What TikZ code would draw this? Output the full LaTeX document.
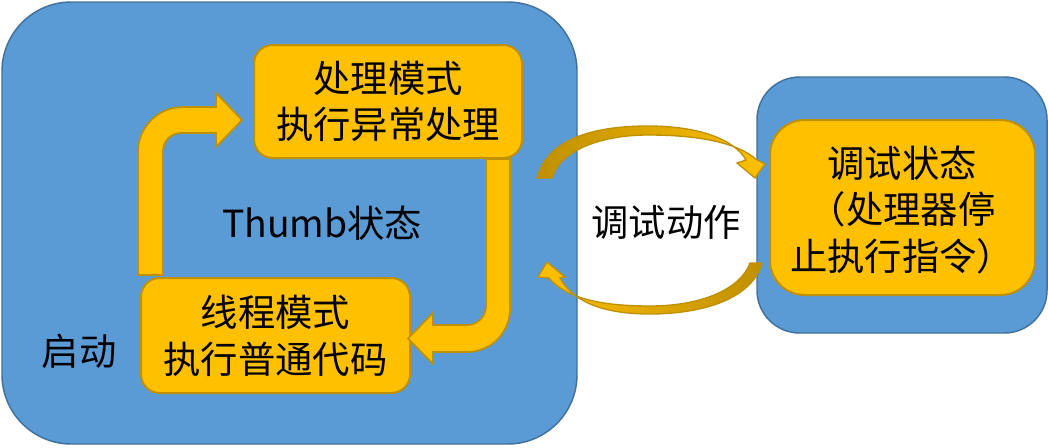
\documentclass[tikz,border=0pt]{standalone}
\usepackage{fontspec}
\setmainfont{Noto Sans CJK SC}
\definecolor{bluefill}{HTML}{5B9BD5}
\definecolor{blueline}{HTML}{41719C}
\definecolor{gold}{HTML}{FFC000}
\definecolor{goldline}{HTML}{BF9000}
\begin{document}
\begin{tikzpicture}[x=0.75pt,y=-0.75pt,
  bluebox/.style={draw=blueline,fill=bluefill,line width=1.1pt,inner sep=0pt},
  goldbox/.style={draw=goldline,fill=gold,line width=1.5pt,inner sep=0pt,rounded corners=14pt},
  lbl/.style={font=\fontsize{28}{35}\selectfont,align=center,text=black,inner sep=0pt},
  blockarrow/.style={draw=goldline,fill=gold,line width=1.3pt,line join=miter},
  curvedarrow/.style={draw=goldline,line width=1pt,line join=miter}
]
\fill[white] (0,0) rectangle (1048,447);
\useasboundingbox (0,0) rectangle (1048,447);

% containers
\node[bluebox,rounded corners=52pt,minimum width=431.25pt,minimum height=331.5pt] (thumb) at (289.5,223) {};
\node[bluebox,rounded corners=32pt,minimum width=217.5pt,minimum height=192pt] (debugouter) at (902,205) {};

% state boxes
\node[goldbox,minimum width=201pt,minimum height=84.75pt] (handler) at (388,101.5) {};
\node[goldbox,minimum width=201.75pt,minimum height=86.25pt] (thread) at (275.5,335.5) {};
\node[goldbox,rounded corners=26pt,minimum width=198.75pt,minimum height=131.25pt] (debug) at (902.5,207.5) {};

\node[lbl] (handlertext) at (388,101.5) {处理模式\\执行异常处理};
\node[lbl] (threadtext) at (275.5,336) {线程模式\\执行普通代码};
\node[lbl] (debugtext) at (902,210) {调试状态\\（处理器停\\止执行指令）};
\node[lbl] (thumblabel) at (322,223) {Thumb状态};
\node[lbl] (start) at (79,351.5) {启动};
\node[lbl] (action) at (666,222) {调试动作};

% bent arrow: thread -> handler
\draw[blockarrow] (138,275) -- (138,152) .. controls (138,127.1) and (158.1,107) .. (183,107)
  -- (216,107) -- (216,93) -- (242,120) -- (216,147) -- (216,133) -- (181,133)
  .. controls (171.1,133) and (163,141.1) .. (163,151) -- (163,275) -- cycle;

% bent arrow: handler -> thread
\draw[blockarrow] (486,159) -- (510,159) -- (510,309) .. controls (510,332.7) and (490.7,352) .. (467,352)
  -- (433,352) -- (433,364) -- (408,338.5) -- (433,313) -- (433,325) -- (467,325)
  .. controls (477.5,325) and (486,316.5) .. (486,306) -- cycle;

% curved arrow: thumb -> debug
\draw[curvedarrow,left color=goldline,right color=gold]
  (537,178) .. controls (548,136) and (600,126) .. (648,126)
  .. controls (700,126) and (735,140) .. (746,160)
  -- (737,163) -- (755,178) -- (765,164) -- (757,160)
  .. controls (738,143) and (700,135) .. (648,135)
  .. controls (602,135) and (560,150) .. (552,178) -- cycle;

% curved arrow: debug -> thumb
\draw[curvedarrow,left color=gold,right color=goldline]
  (762,263) .. controls (752,300) and (700,314) .. (650,314)
  .. controls (600,314) and (572,300) .. (560,278)
  -- (565,277) -- (547,262) -- (538,277) -- (549,278)
  .. controls (566,298) and (600,306) .. (650,306)
  .. controls (700,306) and (740,290) .. (750,263) -- cycle;
\end{tikzpicture}
\end{document}
